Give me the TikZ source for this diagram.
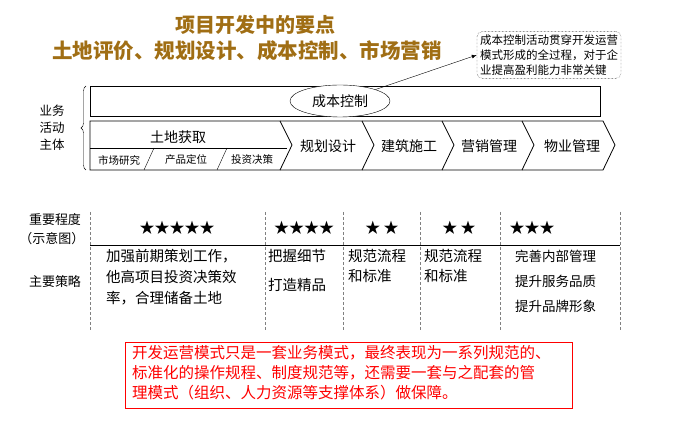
\documentclass[tikz,border=0pt]{standalone}
\usepackage{fontspec}
\setmainfont{Noto Sans CJK SC}
\usetikzlibrary{shapes.geometric,decorations.pathreplacing,arrows.meta}
\definecolor{titlegold}{RGB}{160,110,20}
\tikzset{
  chev/.style={draw, thick, line join=miter},
  body/.style={font=\fontsize{14}{17}\selectfont, inner sep=0pt},
  small/.style={font=\fontsize{10.5}{12}\selectfont, inner sep=0pt},
  grid/.style={densely dashed, gray, thin},
}
\begin{document}
\begin{tikzpicture}[x=1pt,y=-1pt]
\useasboundingbox (0,0) rectangle (686,430);
% title
\node[font=\bfseries\fontsize{20}{22}\selectfont, text=titlegold] (t1) at (255,25) {项目开发中的要点};
\node[font=\bfseries\fontsize{20.5}{22}\selectfont, text=titlegold] (t2) at (247,51) {土地评价、规划设计、成本控制、市场营销};
% callout
\node[draw, densely dotted, rounded corners=5pt, align=left, font=\fontsize{11.5}{15}\selectfont, inner sep=3pt] (note) at (549,55) {成本控制活动贯穿开发运营\\模式形成的全过程，对于企\\业提高盈利能力非常关键};
% cost control band
\draw[thin] (90,86) rectangle (600,116);
\node[draw, ellipse, minimum width=100, minimum height=32, body, fill=white] (cost) at (340,101) {成本控制};
\draw[-{Latex[length=5pt]}] (cost.north east) -- (note.west);
% chevrons
\draw[chev] (90,121) -- (280,121) -- (292,145) -- (280,170) -- (90,170) -- cycle;
\draw[chev] (280,121) -- (362,121) -- (374,145) -- (362,170) -- (280,170);
\draw[chev] (362,121) -- (442,121) -- (454,145) -- (442,170) -- (362,170);
\draw[chev] (442,121) -- (522,121) -- (534,145) -- (522,170) -- (442,170);
\draw[chev] (522,121) -- (603,121) -- (615,145) -- (603,170) -- (522,170);
\draw (90,148) -- (287,148);
\draw (154,148) -- (144,170);
\draw (227,148) -- (217,170);
\node[body] (land) at (178,137) {土地获取};
\node[small] (s1) at (119,160) {市场研究};
\node[small] (s2) at (186,160) {产品定位};
\node[small] (s3) at (252,160) {投资决策};
\node[body] (plan) at (328,146) {规划设计};
\node[body] (build) at (409,146) {建筑施工};
\node[body] (sale) at (489,146) {营销管理};
\node[body] (prop) at (572,146) {物业管理};
\draw[decorate, decoration={brace, amplitude=5pt}] (86,170) -- (86,86);
\node[body, align=center, font=\fontsize{12.5}{17}\selectfont] (subj) at (52,128) {业务\\活动\\主体};
% table
\foreach \x in {90,265,343,420,500,620}
  \draw[grid] (\x,212) -- (\x,330);
\draw (90,245) -- (620,245);
\node[body, font=\fontsize{13}{15}\selectfont] (imp) at (55,220) {重要程度};
\node[body, font=\fontsize{13}{15}\selectfont] (imp2) at (52,239) {（示意图）};
\node[body, font=\fontsize{13}{15}\selectfont] (strat) at (55,282) {主要策略};
\node[body, font=\fontsize{15}{17}\selectfont] (st1) at (177,228) {★★★★★};
\node[body, font=\fontsize{15}{17}\selectfont] (st2) at (304,228) {★★★★};
\node[body, font=\fontsize{15}{17}\selectfont] (st3) at (382,228) {★ ★};
\node[body, font=\fontsize{15}{17}\selectfont] (st4) at (459,228) {★ ★};
\node[body, font=\fontsize{15}{17}\selectfont] (st5) at (532,228) {★★★};
\node[body, align=left, anchor=north west, font=\fontsize{14.5}{21}\selectfont] (p1) at (106,249) {加强前期策划工作，\\他高项目投资决策效\\率，合理储备土地};
\node[body, align=left, anchor=north west, font=\fontsize{14.5}{29}\selectfont] (p2) at (268,249) {把握细节\\打造精品};
\node[body, align=left, anchor=north west, font=\fontsize{14.5}{20}\selectfont] (p3) at (348,249) {规范流程\\和标准};
\node[body, align=left, anchor=north west, font=\fontsize{14.5}{20}\selectfont] (p4) at (424,249) {规范流程\\和标准};
\node[body, align=left, anchor=north west, font=\fontsize{13.5}{25}\selectfont] (p5) at (515,250) {完善内部管理\\提升服务品质\\提升品牌形象};
% bottom remark
\draw[red, thin] (125,342) rectangle (572,408);
\node[body, align=left, anchor=north west, text=red, font=\fontsize{15.5}{20}\selectfont] (remark) at (132,345) {开发运营模式只是一套业务模式，最终表现为一系列规范的、\\标准化的操作规程、制度规范等，还需要一套与之配套的管\\理模式（组织、人力资源等支撑体系）做保障。};
\end{tikzpicture}
\end{document}
